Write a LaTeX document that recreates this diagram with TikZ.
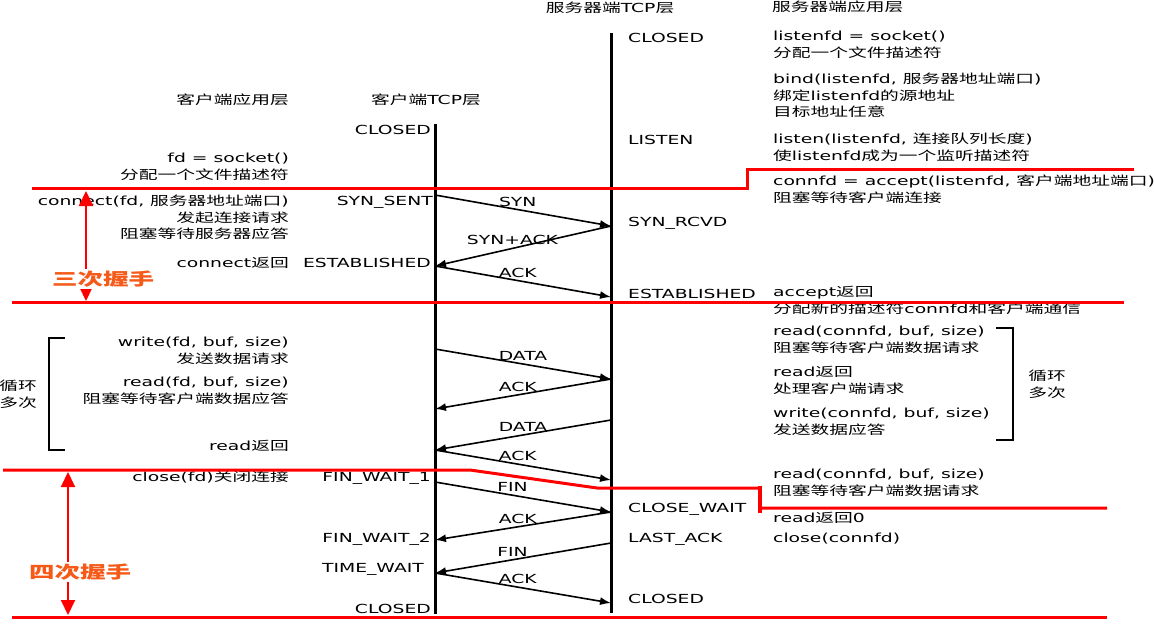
\documentclass[tikz,border=0pt]{standalone}
\usepackage{fontspec}
\usepackage{tikz}
\usetikzlibrary{arrows.meta}
\setmainfont[FakeStretch=1.5]{DejaVu Sans}
\newfontfamily\zhfont[FakeStretch=1.5]{Noto Sans CJK SC}
\newcommand{\zh}[1]{{\zhfont #1}}
\newcommand{\txtsize}{\fontsize{12.5}{16.5}\selectfont}
\definecolor{handred}{RGB}{245,90,25}
\tikzset{txtl/.style={inner sep=0pt, font=\txtsize, align=left, anchor=north west, execute at begin node=\strut}}
\tikzset{txtr/.style={inner sep=0pt, font=\txtsize, align=right, anchor=north east, execute at begin node=\strut}}
\tikzset{txtc/.style={inner sep=0pt, font=\txtsize, align=center, anchor=north, execute at begin node=\strut}}
\tikzset{lifeline/.style={line width=3pt}}
\tikzset{arrow/.style={-{Latex[length=11pt,width=8pt]}, line width=1.6pt}}
\tikzset{lbl/.style={font=\txtsize, inner sep=2.5pt, above}}
\tikzset{redline/.style={red, line width=3pt}}
\tikzset{redarrow/.style={arrows={Triangle[length=15pt,width=14pt]-Triangle[length=15pt,width=14pt]}, red, line width=2pt}}
\tikzset{hand/.style={fill=white, text=handred, inner sep=2pt, font=\fontsize{17}{20}\selectfont\zhfont\bfseries}}
\tikzset{brace/.style={line width=2pt}}

\begin{document}
\begin{tikzpicture}[x=1pt, y=-1pt]
  \fill[white] (0,0) rectangle (1154,624);
  \useasboundingbox (0,0) rectangle (1154,624);

  % headers
  \node[txtc] (svtcp) at (610,1) {\zh{服务器端}TCP\zh{层}};
  \node[txtl] (svapp) at (772,0) {\zh{服务器端应用层}};
  \node[txtr] (clapp) at (289,93) {\zh{客户端应用层}};
  \node[txtc] (cltcp) at (426,93) {\zh{客户端}TCP\zh{层}};

  % time lines
  \coordinate (ctop) at (435,124);
  \coordinate (cbot) at (435,614);
  \coordinate (stop) at (611,33);
  \coordinate (sbot) at (611,613);
  \draw[lifeline] (ctop) -- (cbot);
  \draw[lifeline] (stop) -- (sbot);

  % client states
  \node[txtr] (cclosed) at (431,123) {CLOSED};
  \node[txtr] (csynsent) at (433,194) {SYN\_SENT};
  \node[txtr] (cest) at (431,256) {ESTABLISHED};
  \node[txtr] (cfin1) at (431,470) {FIN\_WAIT\_1};
  \node[txtr] (cfin2) at (431,531) {FIN\_WAIT\_2};
  \node[txtr] (ctime) at (424,561) {TIME\_WAIT};
  \node[txtr] (cclosed2) at (431,602) {CLOSED};

  % server states
  \node[txtl] (sclosed) at (628,31) {CLOSED};
  \node[txtl] (slisten) at (628,133) {LISTEN};
  \node[txtl] (ssynrcvd) at (628,215) {SYN\_RCVD};
  \node[txtl] (sest) at (628,287) {ESTABLISHED};
  \node[txtl] (sclosewait) at (628,501) {CLOSE\_WAIT};
  \node[txtl] (slastack) at (628,531) {LAST\_ACK};
  \node[txtl] (sclosed2) at (628,592) {CLOSED};

  % client application
  \node[txtr] (csocket) at (289,153) {fd = socket()\\\zh{分配一个文件描述符}};
  \node[txtr] (cconnect) at (289,195) {connect(fd, \zh{服务器地址端口})\\\zh{发起连接请求}\\\zh{阻塞等待服务器应答}};
  \node[txtr] (cconnret) at (289,256) {connect\zh{返回}};
  \node[txtr] (cwrite) at (289,337) {write(fd, buf, size)\\\zh{发送数据请求}};
  \node[txtr] (cread) at (289,377) {read(fd, buf, size)\\\zh{阻塞等待客户端数据应答}};
  \node[txtr] (creadret) at (289,439) {read\zh{返回}};
  \node[txtr] (cclose) at (289,470) {close(fd)\zh{关闭连接}};

  % server application
  \node[txtl] (ssocket) at (773,31) {listenfd = socket()\\\zh{分配一个文件描述符}};
  \node[txtl] (sbind) at (773,73) {bind(listenfd, \zh{服务器地址端口})\\\zh{绑定}listenfd\zh{的源地址}\\\zh{目标地址任意}};
  \node[txtl] (slistenfn) at (773,133) {listen(listenfd, \zh{连接队列长度})\\\zh{使}listenfd\zh{成为一个监听描述符}};
  \node[txtl] (saccept) at (773,175) {connfd = accept(listenfd, \zh{客户端地址端口})\\\zh{阻塞等待客户端连接}};
  \node[txtl] (sacceptret) at (773,286) {accept\zh{返回}\\\zh{分配新的描述符}connfd\zh{和客户端通信}};
  \node[txtl] (sread) at (773,326) {read(connfd, buf, size)\\\zh{阻塞等待客户端数据请求}};
  \node[txtl] (sreadret) at (773,366) {read\zh{返回}\\\zh{处理客户端请求}};
  \node[txtl] (swrite) at (773,408) {write(connfd, buf, size)\\\zh{发送数据应答}};
  \node[txtl] (sread2) at (773,469) {read(connfd, buf, size)\\\zh{阻塞等待客户端数据请求}};
  \node[txtl] (sreadzero) at (773,511) {read\zh{返回}0};
  \node[txtl] (sclose) at (773,531) {close(connfd)};

  % loop brackets
  \draw[brace] (65,338) -- (49,338) -- (49,450) -- (65,450);
  \node[txtc] (cloop) at (18,380) {\zh{循环}\\\zh{多次}};
  \draw[brace] (996,328) -- (1013,328) -- (1013,440) -- (996,440);
  \node[txtc] (sloop) at (1047,370) {\zh{循环}\\\zh{多次}};

  % segments
  \coordinate (c1) at (435,195);
  \coordinate (s1) at (611,226);
  \coordinate (c2) at (435,266);
  \coordinate (s2) at (611,297);
  \coordinate (c3) at (435,349);
  \coordinate (s3) at (611,379);
  \coordinate (c4) at (435,409);
  \coordinate (s4) at (611,420);
  \coordinate (c5) at (435,450);
  \coordinate (s5) at (611,480);
  \coordinate (c6) at (435,482);
  \coordinate (s6) at (611,512);
  \coordinate (c7) at (435,540);
  \coordinate (s7) at (611,543);
  \coordinate (c8) at (435,573);
  \coordinate (s8) at (611,603);

  \draw[arrow] (c1) -- node[lbl, pos=0.47] (syn) {SYN} (s1);
  \draw[arrow] (s1) -- node[lbl, pos=0.56] (synack) {SYN+ACK} (c2);
  \draw[arrow] (c2) -- node[lbl, pos=0.47] (ack1) {ACK} (s2);
  \draw[arrow] (c3) -- node[lbl, pos=0.5] (data1) {DATA} (s3);
  \draw[arrow] (s3) -- node[lbl, pos=0.53] (ack2) {ACK} (c4);
  \draw[arrow] (s4) -- node[lbl, pos=0.5] (data2) {DATA} (c5);
  \draw[arrow] (c5) -- node[lbl, pos=0.47] (ack3) {ACK} (s5);
  \draw[arrow] (c6) -- node[lbl, pos=0.44] (fin1) {FIN} (s6);
  \draw[arrow] (s6) -- node[lbl, pos=0.53] (ack4) {ACK} (c7);
  \draw[arrow] (s7) -- node[lbl, pos=0.56] (fin2) {FIN} (c8);
  \draw[arrow] (c8) -- node[lbl, pos=0.47] (ack5) {ACK} (s8);

  % red separators
  \draw[redline] (32,188) -- (747,188) -- (747,169) -- (1134,169);
  \draw[redline] (12,302) -- (1124,302);
  \draw[redline] (3,470) -- (470,470) -- (597,488) -- (760,488) -- (760,508) -- (1107,508);
  \draw[red, line width=4pt] (760,486) -- (760,513);
  \draw[redline] (12,617) -- (1107,617);

  % handshakes
  \coordinate (h3top) at (86,191);
  \coordinate (h3bot) at (86,301);
  \draw[redarrow] (h3top) -- (h3bot);
  \node[hand] (three) at (103,279) {三次握手};
  \coordinate (h4top) at (68,472);
  \coordinate (h4bot) at (68,615);
  \draw[redarrow] (h4top) -- (h4bot);
  \node[hand] (four) at (80,572) {四次握手};
\end{tikzpicture}
\end{document}
